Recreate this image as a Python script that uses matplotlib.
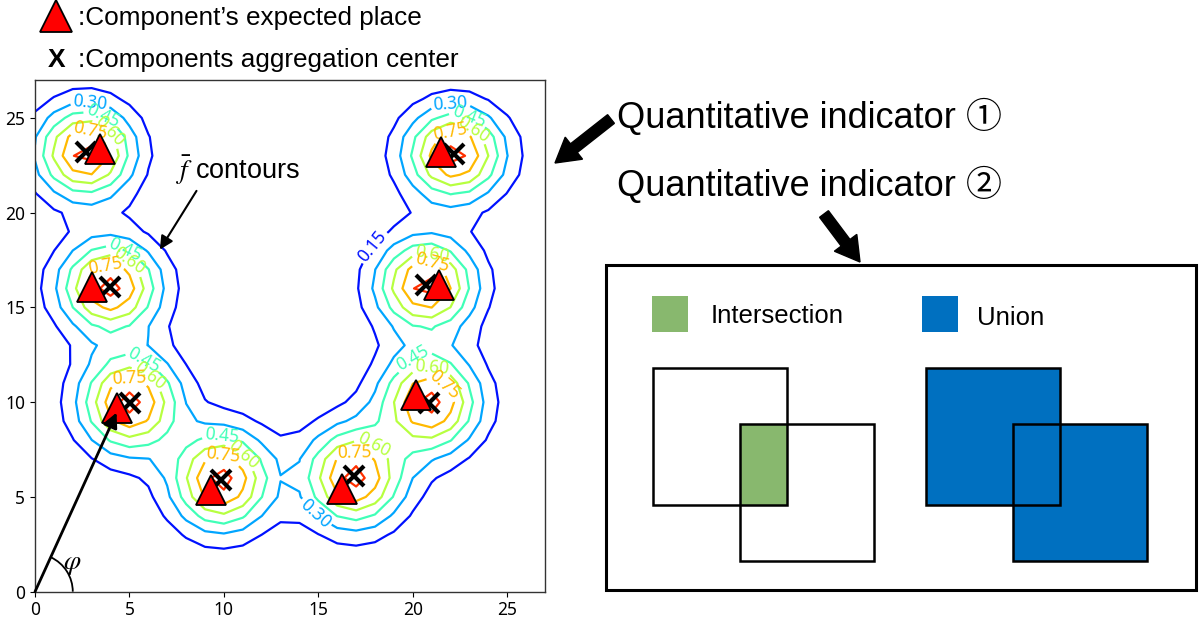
import numpy as np
import matplotlib
matplotlib.use("Agg")
import matplotlib.pyplot as plt
from matplotlib import patches

plt.rcParams['font.family'] = ['Liberation Sans', 'Noto Sans CJK JP', 'DejaVu Sans']

# aggregation centres (X) -- also the peaks of the f-bar field
agg_x = [2.68, 22.2, 3.96, 20.7, 5.02, 20.88, 9.87, 16.91]
agg_y = [23.2, 23.1, 16.1, 16.2, 9.98, 9.98, 5.9, 6.08]
# expected places (triangles)
exp_x = [3.44, 21.5, 3.03, 21.4, 4.32, 20.17, 9.34, 16.26]
exp_y = [23.35, 23.2, 16.08, 16.17, 9.68, 10.39, 5.37, 5.44]
# peak height and spread of each component's field
peak = [0.97, 0.97, 0.97, 0.97, 0.97, 0.97, 0.97, 0.97]
spread_x = [1.8, 1.84, 1.84, 1.84, 1.84, 1.84, 1.84, 1.84]
spread_y = [1.7, 1.7, 1.7, 1.7, 1.84, 1.84, 1.84, 1.84]

levels = [0.15, 0.30, 0.45, 0.60, 0.75, 0.90]

# contour label spots
label_lev = [0.30, 0.45, 0.60, 0.75,
             0.30, 0.45, 0.60, 0.75,
             0.15,
             0.45, 0.60, 0.75,
             0.60, 0.75,
             0.45, 0.60, 0.75,
             0.45, 0.75, 0.60,
             0.45, 0.60, 0.75,
             0.60, 0.75, 0.30]
label_x = [2.91, 3.7, 4.23, 2.87,
           21.93, 22.99, 23.35, 21.93,
           17.97,
           4.85, 5.11, 3.61,
           20.97, 20.97,
           5.9, 6.34, 4.85,
           9.87, 9.87, 11.19,
           19.82, 20.97, 21.93,
           17.97, 16.83, 15.06]
label_y = [26.03, 25.4, 24.8, 24.5,
           26.03, 25.3, 24.6, 24.6,
           18.14,
           18.3, 17.8, 17.5,
           18.05, 17.6,
           12.55, 11.66, 11.58,
           8.47, 7.5, 7.41,
           12.82, 12.2, 11.13,
           8.03, 7.5, 4.31]

# f-bar on the coarse 1-unit grid
gx, gy = np.meshgrid(np.arange(28), np.arange(28))
keep = np.ones(gx.shape)
for cx, cy, a, sx, sy in zip(agg_x, agg_y, peak, spread_x, spread_y):
    g = a * np.exp(-((gx - cx) ** 2 / (2 * sx ** 2) + (gy - cy) ** 2 / (2 * sy ** 2)))
    keep *= 1 - g
fbar = 1 - keep

fig = plt.figure(figsize=(12, 6.19), dpi=100)

# overlay in pixel coordinates for the schematic parts
ov = fig.add_axes([0, 0, 1, 1])
ov.set_xlim(0, 1200)
ov.set_ylim(619, 0)
ov.axis('off')

ax = fig.add_axes([35 / 1200, 27.3 / 619, 510 / 1200, 511.7 / 619])
jet = plt.get_cmap('jet')
for lv in levels:
    cs = ax.contour(gx, gy, fbar, levels=[lv], colors=[jet(lv / 1.05)],
                    linewidths=1.6)
    pts = [(x, y) for x, y, l in zip(label_x, label_y, label_lev) if l == lv]
    if pts:
        txts = ax.clabel(cs, manual=pts, inline=True, fmt='%.2f',
                         fontsize=12.5, inline_spacing=3)
        for t in txts:
            t.set_fontfamily('Noto Sans')

ax.plot(agg_x, agg_y, 'x', color='black', ms=14, mew=3, zorder=4)
ax.plot(exp_x, exp_y, '^', color='red', mec='black', mew=1.3, ms=21, zorder=5)

ax.annotate('', xy=(exp_x[4], 9.45), xytext=(0, 0),
            arrowprops=dict(arrowstyle='-|>', color='black', lw=2,
                            mutation_scale=22, shrinkA=0, shrinkB=0),
            zorder=6)
ax.add_patch(patches.Arc((0, 0), 4, 4, theta1=0, theta2=65.4, lw=1.3,
                         color='black'))
ax.text(1.96, 1.45, r'$\varphi$', fontsize=20, ha='center', va='center',
        math_fontfamily='stix')
ax.text(7.45, 21.8, r'$\bar{f}$ contours', fontsize=19.5, ha='left',
        va='baseline', math_fontfamily='stix')
ax.annotate('', xy=(6.61, 18.05), xytext=(8.55, 21.15),
            arrowprops=dict(arrowstyle='-|>', color='black', lw=1.5,
                            mutation_scale=20, shrinkA=0, shrinkB=0))

ax.set_xlim(0, 27)
ax.set_ylim(0, 27)
ax.set_xticks([0, 5, 10, 15, 20, 25])
ax.set_yticks([0, 5, 10, 15, 20, 25])
ax.tick_params(labelsize=12.5, length=3.5)
for lab in ax.get_xticklabels() + ax.get_yticklabels():
    lab.set_fontfamily('Noto Sans')
for sp in ax.spines.values():
    sp.set_color('#333333')
    sp.set_linewidth(1.0)

# top legend
ov.plot(56, 16, '^', color='red', mec='black', mew=1.3, ms=23)
ov.text(78, 25, ':Component\u2019s expected place', fontsize=18.8, va='baseline')
ov.text(57, 67, 'X', fontsize=19, fontweight='bold', ha='center', va='baseline')
ov.text(78, 67, ':Components aggregation center', fontsize=18.8, va='baseline')

# quantitative indicators
ov.text(617, 128, 'Quantitative indicator \u2460', fontsize=26, va='baseline')
ov.text(617, 196, 'Quantitative indicator \u2461', fontsize=26, va='baseline')
ov.arrow(611, 119, -56, 44, width=11, head_width=28, head_length=24,
         length_includes_head=True, fc='black', ec='black')
ov.arrow(824, 214, 36, 48, width=11, head_width=28, head_length=24,
         length_includes_head=True, fc='black', ec='black')

# IoU schematic
green = '#88b86e'
blue = '#0070c0'
ov.add_patch(patches.Rectangle((606, 265), 590, 325, fill=False, lw=2.2, ec='black'))
ov.add_patch(patches.Rectangle((652, 296), 36, 36, fc=green, ec='none'))
ov.text(711, 323, 'Intersection', fontsize=18.5, va='baseline')
ov.add_patch(patches.Rectangle((922, 296), 36, 36, fc=blue, ec='none'))
ov.text(977, 325, 'Union', fontsize=18.5, va='baseline')

ov.add_patch(patches.Rectangle((740, 424), 47, 81, fc=green, ec='none'))
ov.add_patch(patches.Rectangle((926, 368), 134, 137, fc=blue, ec='none'))
ov.add_patch(patches.Rectangle((1013, 424), 134, 138, fc=blue, ec='none'))
for x0, y0 in [(653, 368), (740, 424), (926, 368), (1013, 424)]:
    ov.add_patch(patches.Rectangle((x0, y0), 134, 137, fill=False, lw=1.8,
                                   ec='black'))

fig.savefig('out.png', dpi=100)
